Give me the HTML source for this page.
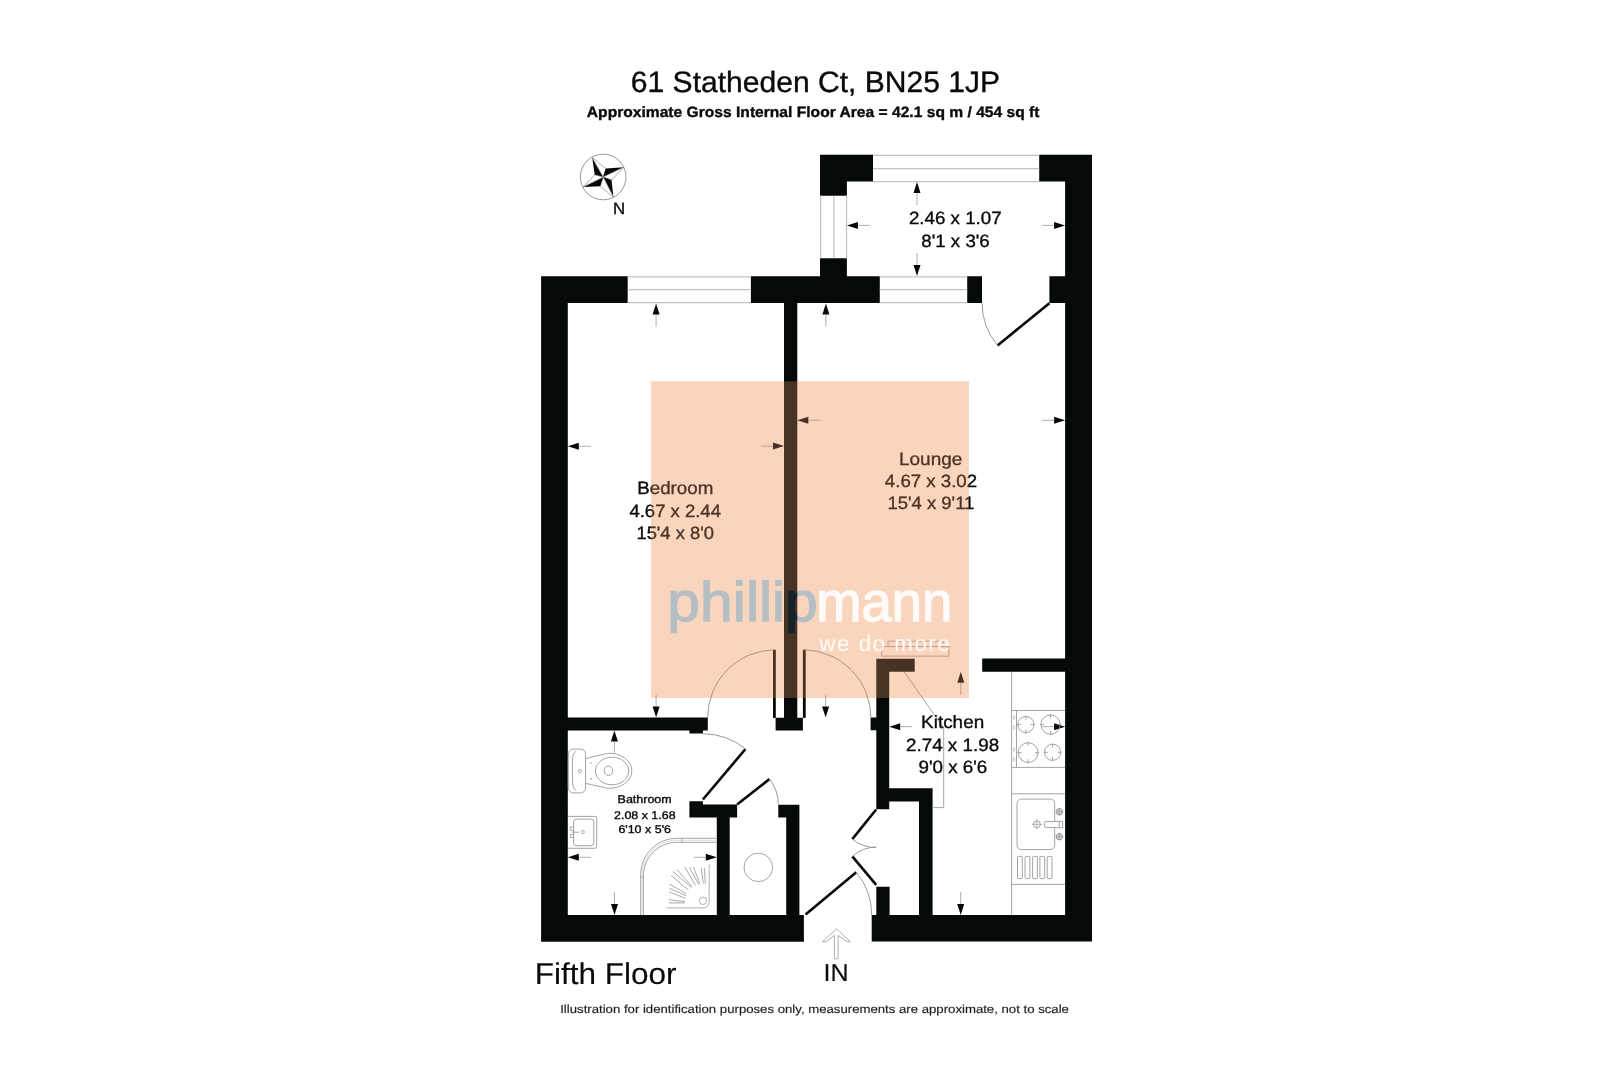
<!DOCTYPE html>
<html><head><meta charset="utf-8"><style>
html,body{margin:0;padding:0;background:#fff;}
svg{display:block;font-family:"Liberation Sans",sans-serif;}
text{text-rendering:geometricPrecision;}
</style></head><body>
<div style="will-change:transform"><svg width="1620" height="1080" viewBox="0 0 1620 1080">
<rect width="1620" height="1080" fill="#fff"/>
<defs>
<mask id="km" maskUnits="userSpaceOnUse" x="0" y="0" width="1620" height="1080">
<rect x="0" y="0" width="1620" height="1080" fill="#fff"/>
<text transform="translate(670.7,620.9) scale(1.053,1)" x="-3.2" y="0" font-size="55.9" fill="#000" stroke="#000" stroke-width="1.4" font-family="Liberation Sans, sans-serif">phillip</text>
</mask>
</defs>
<path fill="#060909" d="M541.10 276.20H567.80V941.80H541.10Z M541.10 276.20H627.70V303.00H541.10Z M750.90 276.20H879.80V303.00H750.90Z M820.00 258.30H846.90V303.00H820.00Z M820.00 154.70H846.90V195.70H820.00Z M820.00 154.70H873.00V181.60H820.00Z M1039.20 154.70H1092.00V181.60H1039.20Z M1065.10 154.70H1092.00V941.60H1065.10Z M967.20 276.30H982.00V303.10H967.20Z M1049.40 276.30H1065.50V303.10H1049.40Z M784.00 303.00H797.30V717.90H784.00Z M775.60 717.80H802.90V730.40H775.60Z M567.50 717.60H707.80V730.50H567.50Z M689.40 730.00H702.90V733.40H689.40Z M689.40 801.30H702.90V817.60H689.40Z M689.40 804.50H737.10V817.60H689.40Z M716.80 817.00H729.70V915.50H716.80Z M778.30 804.70H799.40V817.60H778.30Z M786.20 817.00H799.40V915.50H786.20Z M541.10 915.00H803.90V941.80H541.10Z M871.70 915.00H1092.00V941.60H871.70Z M876.30 886.70H889.60V915.50H876.30Z M876.30 658.70H914.70V671.70H876.30Z M876.30 658.70H889.20V809.30H876.30Z M889.00 788.30H932.50V801.60H889.00Z M919.00 788.30H932.60V915.50H919.00Z M870.60 717.50H876.60V730.30H870.60Z M982.20 658.50H1065.50V671.80H982.20Z"/>
<line x1="627.7" y1="276.8" x2="750.9" y2="276.8" stroke="#c4c4c4" stroke-width="1.3"/>
<line x1="627.7" y1="289.6" x2="750.9" y2="289.6" stroke="#c4c4c4" stroke-width="1.3"/>
<line x1="627.7" y1="302.6" x2="750.9" y2="302.6" stroke="#c4c4c4" stroke-width="1.3"/>
<line x1="879.8" y1="276.8" x2="967.2" y2="276.8" stroke="#c4c4c4" stroke-width="1.3"/>
<line x1="879.8" y1="289.6" x2="967.2" y2="289.6" stroke="#c4c4c4" stroke-width="1.3"/>
<line x1="879.8" y1="302.6" x2="967.2" y2="302.6" stroke="#c4c4c4" stroke-width="1.3"/>
<line x1="873.0" y1="155.3" x2="1039.2" y2="155.3" stroke="#c4c4c4" stroke-width="1.3"/>
<line x1="873.0" y1="168.6" x2="1039.2" y2="168.6" stroke="#c4c4c4" stroke-width="1.3"/>
<line x1="873.0" y1="181.6" x2="1039.2" y2="181.6" stroke="#c4c4c4" stroke-width="1.3"/>
<line x1="820.6" y1="195.7" x2="820.6" y2="258.3" stroke="#c4c4c4" stroke-width="1.3"/>
<line x1="833.9" y1="195.7" x2="833.9" y2="258.3" stroke="#c4c4c4" stroke-width="1.3"/>
<line x1="846.5" y1="195.7" x2="846.5" y2="258.3" stroke="#c4c4c4" stroke-width="1.3"/>
<line x1="1049.4" y1="303.2" x2="997.5" y2="345.4" stroke="#060909" stroke-width="2.6"/>
<path d="M982.0 303.2 A67.4 67.4 0 0 0 997.5 345.4" fill="none" stroke="#9a9a9a" stroke-width="1.0"/>
<rect x="773.00" y="649.70" width="2.80" height="68.20" fill="#060909"/>
<path d="M707.6 717.8 A68 68 0 0 1 774.4 649.8" fill="none" stroke="#9a9a9a" stroke-width="1.0"/>
<rect x="802.90" y="649.70" width="2.80" height="68.20" fill="#060909"/>
<path d="M804.3 649.8 A68 68 0 0 1 870.9 717.8" fill="none" stroke="#9a9a9a" stroke-width="1.0"/>
<line x1="702.9" y1="799.5" x2="745.5" y2="749.0" stroke="#060909" stroke-width="2.6"/>
<path d="M702.9 733.8 A67.4 67.4 0 0 1 745.5 749.0" fill="none" stroke="#9a9a9a" stroke-width="1.0"/>
<line x1="737.1" y1="804.5" x2="769.5" y2="779.1" stroke="#060909" stroke-width="2.6"/>
<path d="M769.5 779.1 A41.2 41.2 0 0 1 778.3 804.5" fill="none" stroke="#9a9a9a" stroke-width="1.0"/>
<line x1="876.2" y1="809.5" x2="852.3" y2="839.1" stroke="#060909" stroke-width="2.6"/>
<line x1="852.3" y1="856.4" x2="876.2" y2="884.9" stroke="#060909" stroke-width="2.6"/>
<path d="M852.3 839.1 A38 38 0 0 0 876.2 847.6" fill="none" stroke="#9a9a9a" stroke-width="1.0"/>
<path d="M876.2 846.9 A38 38 0 0 0 852.3 856.4" fill="none" stroke="#9a9a9a" stroke-width="1.0"/>
<line x1="805.6" y1="914.6" x2="856.25" y2="872.2" stroke="#060909" stroke-width="2.6"/>
<path d="M856.25 872.2 A66.7 66.7 0 0 1 871.7 915.0" fill="none" stroke="#9a9a9a" stroke-width="1.0"/>
<line x1="656.1" y1="314.5" x2="656.1" y2="326.5" stroke="#a6a6a6" stroke-width="0.9"/>
<polygon points="656.1,303.5 652.6,314.5 659.6,314.5" fill="#060909"/>
<line x1="578.8" y1="446.3" x2="590.8" y2="446.3" stroke="#a6a6a6" stroke-width="0.9"/>
<polygon points="567.8,446.3 578.8,442.8 578.8,449.8" fill="#060909"/>
<line x1="773.0" y1="446.1" x2="761.0" y2="446.1" stroke="#a6a6a6" stroke-width="0.9"/>
<polygon points="784.0,446.1 773.0,442.6 773.0,449.6" fill="#060909"/>
<line x1="656.1" y1="706.5" x2="656.1" y2="694.5" stroke="#a6a6a6" stroke-width="0.9"/>
<polygon points="656.1,717.5 652.6,706.5 659.6,706.5" fill="#060909"/>
<line x1="825.9" y1="314.5" x2="825.9" y2="326.5" stroke="#a6a6a6" stroke-width="0.9"/>
<polygon points="825.9,303.5 822.4,314.5 829.4,314.5" fill="#060909"/>
<line x1="808.3" y1="420.2" x2="820.3" y2="420.2" stroke="#a6a6a6" stroke-width="0.9"/>
<polygon points="797.3,420.2 808.3,416.7 808.3,423.7" fill="#060909"/>
<line x1="1054.1" y1="420.3" x2="1042.1" y2="420.3" stroke="#a6a6a6" stroke-width="0.9"/>
<polygon points="1065.1,420.3 1054.1,416.8 1054.1,423.8" fill="#060909"/>
<line x1="825.6" y1="706.5" x2="825.6" y2="694.5" stroke="#a6a6a6" stroke-width="0.9"/>
<polygon points="825.6,717.5 822.1,706.5 829.1,706.5" fill="#060909"/>
<line x1="917.0" y1="193.0" x2="917.0" y2="205.0" stroke="#a6a6a6" stroke-width="0.9"/>
<polygon points="917.0,182.0 913.5,193.0 920.5,193.0" fill="#060909"/>
<line x1="857.9" y1="225.4" x2="869.9" y2="225.4" stroke="#a6a6a6" stroke-width="0.9"/>
<polygon points="846.9,225.4 857.9,221.9 857.9,228.9" fill="#060909"/>
<line x1="1054.1" y1="225.4" x2="1042.1" y2="225.4" stroke="#a6a6a6" stroke-width="0.9"/>
<polygon points="1065.1,225.4 1054.1,221.9 1054.1,228.9" fill="#060909"/>
<line x1="917.0" y1="265.0" x2="917.0" y2="253.0" stroke="#a6a6a6" stroke-width="0.9"/>
<polygon points="917.0,276.0 913.5,265.0 920.5,265.0" fill="#060909"/>
<line x1="900.2" y1="726.7" x2="912.2" y2="726.7" stroke="#a6a6a6" stroke-width="0.9"/>
<polygon points="889.2,726.7 900.2,723.2 900.2,730.2" fill="#060909"/>
<line x1="1054.1" y1="726.7" x2="1042.1" y2="726.7" stroke="#a6a6a6" stroke-width="0.9"/>
<polygon points="1065.1,726.7 1054.1,723.2 1054.1,730.2" fill="#060909"/>
<line x1="960.8" y1="682.8" x2="960.8" y2="694.8" stroke="#a6a6a6" stroke-width="0.9"/>
<polygon points="960.8,671.8 957.3,682.8 964.3,682.8" fill="#060909"/>
<line x1="960.7" y1="904.0" x2="960.7" y2="892.0" stroke="#a6a6a6" stroke-width="0.9"/>
<polygon points="960.7,915.0 957.2,904.0 964.2,904.0" fill="#060909"/>
<line x1="614.4" y1="741.6" x2="614.4" y2="753.6" stroke="#a6a6a6" stroke-width="0.9"/>
<polygon points="614.4,730.6 610.9,741.6 617.9,741.6" fill="#060909"/>
<line x1="578.8" y1="857.3" x2="590.8" y2="857.3" stroke="#a6a6a6" stroke-width="0.9"/>
<polygon points="567.8,857.3 578.8,853.8 578.8,860.8" fill="#060909"/>
<line x1="705.8" y1="857.3" x2="693.8" y2="857.3" stroke="#a6a6a6" stroke-width="0.9"/>
<polygon points="716.8,857.3 705.8,853.8 705.8,860.8" fill="#060909"/>
<line x1="614.5" y1="904.0" x2="614.5" y2="892.0" stroke="#a6a6a6" stroke-width="0.9"/>
<polygon points="614.5,915.0 611.0,904.0 618.0,904.0" fill="#060909"/>
<line x1="1011.6" y1="671.8" x2="1011.6" y2="915.0" stroke="#9a9a9a" stroke-width="0.9"/>
<line x1="1011.6" y1="710.5" x2="1065.1" y2="710.5" stroke="#9a9a9a" stroke-width="0.9"/>
<line x1="1011.6" y1="767.4" x2="1065.1" y2="767.4" stroke="#9a9a9a" stroke-width="0.9"/>
<line x1="1016.5" y1="710.5" x2="1016.5" y2="767.4" stroke="#9a9a9a" stroke-width="0.9"/>
<circle cx="1025.9" cy="724.6" r="8.1" fill="none" stroke="#9a9a9a" stroke-width="0.9"/>
<path d="M1025.9 715.7 v4.0 M1025.9 733.5 v-4.0 M1017.0000000000001 724.6 h4.0 M1034.8 724.6 h-4.0" stroke="#9a9a9a" stroke-width="0.9"/>
<circle cx="1050.6" cy="724.6" r="9.7" fill="none" stroke="#9a9a9a" stroke-width="0.9"/>
<path d="M1050.6 714.1 v4.0 M1050.6 735.1 v-4.0 M1040.1 724.6 h4.0 M1061.1 724.6 h-4.0" stroke="#9a9a9a" stroke-width="0.9"/>
<circle cx="1028.2" cy="752.6" r="9.9" fill="none" stroke="#9a9a9a" stroke-width="0.9"/>
<path d="M1028.2 741.9000000000001 v4.0 M1028.2 763.3 v-4.0 M1017.5000000000001 752.6 h4.0 M1038.9 752.6 h-4.0" stroke="#9a9a9a" stroke-width="0.9"/>
<circle cx="1052.6" cy="752.3" r="8.1" fill="none" stroke="#9a9a9a" stroke-width="0.9"/>
<path d="M1052.6 743.4 v4.0 M1052.6 761.1999999999999 v-4.0 M1043.7 752.3 h4.0 M1061.4999999999998 752.3 h-4.0" stroke="#9a9a9a" stroke-width="0.9"/>
<rect x="1013.3" y="715.6" width="1.6" height="4" rx="0.8" fill="none" stroke="#b4b4b4" stroke-width="0.6"/>
<rect x="1013.3" y="725.3" width="1.6" height="4" rx="0.8" fill="none" stroke="#b4b4b4" stroke-width="0.6"/>
<rect x="1013.3" y="747.6" width="1.6" height="4" rx="0.8" fill="none" stroke="#b4b4b4" stroke-width="0.6"/>
<rect x="1013.3" y="757.2" width="1.6" height="4" rx="0.8" fill="none" stroke="#b4b4b4" stroke-width="0.6"/>
<line x1="1011.6" y1="793.8" x2="1065.1" y2="793.8" stroke="#9a9a9a" stroke-width="0.9"/>
<line x1="1011.6" y1="884.4" x2="1065.1" y2="884.4" stroke="#9a9a9a" stroke-width="0.9"/>
<rect x="1017" y="799.1" width="37.7" height="50.5" rx="4.5" fill="none" stroke="#9a9a9a" stroke-width="0.9"/>
<circle cx="1036.9" cy="824.3" r="3.4" fill="none" stroke="#9a9a9a" stroke-width="0.9"/>
<path d="M1031.6 824.3 H1042.2 M1036.9 819 V829.6" stroke="#9a9a9a" stroke-width="0.7"/>
<path d="M1046 821.6 L1062.6 821.3 V827.8 L1046 827.4 Q1044.4 827.4 1044.4 825.8 V823.2 Q1044.4 821.6 1046 821.6 Z M1059.2 821.3 V827.8" fill="#fff" stroke="#9a9a9a" stroke-width="0.9"/>
<circle cx="1059.4" cy="811.8" r="3.2" fill="#d4d4d4" stroke="#8a8a8a" stroke-width="0.8"/>
<path d="M1055.4 811.8 H1063.4 M1059.4 807.8 V815.8" stroke="#8a8a8a" stroke-width="0.6"/>
<circle cx="1059.4" cy="836.6" r="3.2" fill="#d4d4d4" stroke="#8a8a8a" stroke-width="0.8"/>
<path d="M1055.4 836.6 H1063.4 M1059.4 832.6 V840.6" stroke="#8a8a8a" stroke-width="0.6"/>
<rect x="1017.5" y="856.4" width="4.8" height="22.2" rx="0.8" fill="none" stroke="#9a9a9a" stroke-width="0.9"/>
<rect x="1025.1" y="856.4" width="4.8" height="22.2" rx="0.8" fill="none" stroke="#9a9a9a" stroke-width="0.9"/>
<rect x="1032.6" y="856.4" width="4.8" height="22.2" rx="0.8" fill="none" stroke="#9a9a9a" stroke-width="0.9"/>
<rect x="1039.9" y="856.4" width="4.8" height="22.2" rx="0.8" fill="none" stroke="#9a9a9a" stroke-width="0.9"/>
<rect x="1047.2" y="856.4" width="4.8" height="22.2" rx="0.8" fill="none" stroke="#9a9a9a" stroke-width="0.9"/>
<line x1="904.4" y1="672.0" x2="943.7" y2="728.3" stroke="#9a9a9a" stroke-width="0.9"/>
<line x1="943.7" y1="728.3" x2="943.7" y2="807.6" stroke="#9a9a9a" stroke-width="0.9"/>
<line x1="932.5" y1="807.6" x2="943.7" y2="807.6" stroke="#9a9a9a" stroke-width="0.9"/>
<rect x="881.7" y="646.7" width="67.2" height="9.4" fill="none" stroke="#9a9a9a" stroke-width="0.8"/>
<path d="M888 647 V641.2 H943.2 V647" fill="none" stroke="#9a9a9a" stroke-width="0.7"/>
<circle cx="758.3" cy="867.4" r="14.3" fill="none" stroke="#9a9a9a" stroke-width="0.9"/>
<rect x="568.3" y="749.1" width="17.3" height="43.8" rx="5" fill="none" stroke="#9a9a9a" stroke-width="0.9"/>
<path d="M576.2 751.1 C573 753 572.4 757 572.4 762 V780 C572.4 785 573 788.5 576.2 790.3" fill="none" stroke="#9a9a9a" stroke-width="0.9"/>
<path d="M585.6 758.5 L607.3 753.4 A22.2 17.5 0 1 1 607.3 788.2 L585.6 783.4" fill="none" stroke="#9a9a9a" stroke-width="0.9"/>
<ellipse cx="612.1" cy="771" rx="16.8" ry="13.75" fill="none" stroke="#9a9a9a" stroke-width="0.9"/>
<ellipse cx="608.4" cy="770.7" rx="4.2" ry="4.8" fill="none" stroke="#9a9a9a" stroke-width="0.9"/>
<circle cx="579.8" cy="771" r="1.6" fill="none" stroke="#9a9a9a" stroke-width="0.8"/>
<circle cx="591" cy="763" r="0.8" fill="#9a9a9a"/>
<circle cx="591" cy="778.9" r="0.8" fill="#9a9a9a"/>
<path d="M567.8 816.4 H594.7 Q596.7 816.4 596.7 818.4 V846.3 Q596.7 848.3 594.7 848.3 H567.8" fill="none" stroke="#9a9a9a" stroke-width="0.9"/>
<rect x="573.6" y="819.2" width="20.2" height="26.5" rx="2.5" fill="none" stroke="#9a9a9a" stroke-width="0.9"/>
<rect x="570.3" y="827" width="3.3" height="3.3" fill="#fff" stroke="#9a9a9a" stroke-width="0.8"/>
<rect x="570.3" y="834.4" width="3.3" height="3.3" fill="#fff" stroke="#9a9a9a" stroke-width="0.8"/>
<line x1="572" y1="832.2" x2="578.9" y2="832.2" stroke="#9a9a9a" stroke-width="0.9"/>
<circle cx="582.8" cy="832" r="1.6" fill="none" stroke="#9a9a9a" stroke-width="0.8"/>
<path d="M640.7 915 V874 A36 36 0 0 1 676.7 838.3 H716.8" fill="none" stroke="#9a9a9a" stroke-width="0.9"/>
<path d="M643.4 915 V874 A33.3 33.3 0 0 1 676.7 842.3 H716.8" fill="none" stroke="#9a9a9a" stroke-width="0.9"/>
<path d="M642.05 915 V874 A34.65 34.65 0 0 1 676.7 840.3 H716.8" fill="none" stroke="#c8c8c8" stroke-width="0.6"/>
<path d="M640.7 877 h2.7 M682 838.3 v4" stroke="#9a9a9a" stroke-width="0.8"/>
<path d="M709.2 864.2 V901.9 A6 6 0 0 1 703.2 907.9 H666.7" fill="none" stroke="#a8a8a8" stroke-width="0.9"/>
<circle cx="702.9" cy="900.8" r="3.7" fill="none" stroke="#9a9a9a" stroke-width="0.8"/>
<line x1="668.7" y1="899.8" x2="684.9" y2="901.6" stroke="#a0a0a0" stroke-width="0.9"/>
<line x1="668.7" y1="902.9" x2="684.9" y2="902.9" stroke="#a0a0a0" stroke-width="0.9"/>
<line x1="669.2" y1="884" x2="686.5" y2="893.7" stroke="#a0a0a0" stroke-width="0.9"/>
<line x1="669.2" y1="888.1" x2="686" y2="895.7" stroke="#a0a0a0" stroke-width="0.9"/>
<line x1="669.2" y1="891.9" x2="685.5" y2="898.3" stroke="#a0a0a0" stroke-width="0.9"/>
<line x1="670.9" y1="875.4" x2="688.5" y2="890.1" stroke="#a0a0a0" stroke-width="0.9"/>
<line x1="672.7" y1="871.3" x2="691.6" y2="887.6" stroke="#a0a0a0" stroke-width="0.9"/>
<line x1="676.8" y1="869.3" x2="692.1" y2="886.6" stroke="#a0a0a0" stroke-width="0.9"/>
<line x1="684.9" y1="867.2" x2="695.6" y2="885.5" stroke="#a0a0a0" stroke-width="0.9"/>
<line x1="689.5" y1="867.2" x2="698.7" y2="884.5" stroke="#a0a0a0" stroke-width="0.9"/>
<line x1="693.6" y1="867.2" x2="699.7" y2="883.5" stroke="#a0a0a0" stroke-width="0.9"/>
<line x1="701.2" y1="867.7" x2="703.3" y2="883.5" stroke="#a0a0a0" stroke-width="0.9"/>
<line x1="704.3" y1="867.7" x2="705.3" y2="883.5" stroke="#a0a0a0" stroke-width="0.9"/>
<circle cx="603.2" cy="177.0" r="22.8" fill="none" stroke="#8a8a8a" stroke-width="0.9"/>
<polygon points="592.2,157.5 594.7,174.9 603.2,177.0" fill="#060909"/>
<polygon points="592.2,157.5 603.2,177.0 605.8,168.6" fill="#fff" stroke="#777" stroke-width="0.6"/>
<polygon points="623.8,167.2 605.8,168.6 603.2,177.0" fill="#060909"/>
<polygon points="623.8,167.2 603.2,177.0 611.5,180.1" fill="#fff" stroke="#777" stroke-width="0.6"/>
<polygon points="613.4,197.1 611.5,180.1 603.2,177.0" fill="#060909"/>
<polygon points="613.4,197.1 603.2,177.0 600.2,186.3" fill="#fff" stroke="#777" stroke-width="0.6"/>
<polygon points="583.2,187.0 600.2,186.3 603.2,177.0" fill="#060909"/>
<polygon points="583.2,187.0 603.2,177.0 594.7,174.9" fill="#fff" stroke="#777" stroke-width="0.6"/>
<path d="M836.5 928.8 L850.4 941.7 L847.1 941.7 L838.1 935.4 V958.8 H834.4 V935.4 L826.2 941.7 L822.5 941.7 Z" fill="none" stroke="#a4a4a4" stroke-width="0.9" stroke-linejoin="round"/>
<text transform="translate(630.80,91.80) scale(1.0189,1)" x="0" y="0" font-size="29.5" font-weight="normal" fill="#0a0a0a" stroke="#0a0a0a" stroke-width="0.35">61 Statheden Ct, BN25 1JP</text>
<text transform="translate(586.83,116.70) scale(1.0482,1)" x="0" y="0" font-size="14.9" font-weight="bold" fill="#0a0a0a" stroke="#0a0a0a" stroke-width="0.35">Approximate Gross Internal Floor Area = 42.1 sq m / 454 sq ft</text>
<text transform="translate(908.91,224.40) scale(1.0535,1)" x="0" y="0" font-size="17.8" font-weight="normal" fill="#0a0a0a" stroke="#0a0a0a" stroke-width="0.35">2.46 x 1.07</text>
<text transform="translate(921.35,246.85) scale(1.0498,1)" x="0" y="0" font-size="17.8" font-weight="normal" fill="#0a0a0a" stroke="#0a0a0a" stroke-width="0.35">8&#39;1 x 3&#39;6</text>
<text transform="translate(898.98,464.50) scale(1.0676,1)" x="0" y="0" font-size="17.8" font-weight="normal" fill="#0a0a0a" stroke="#0a0a0a" stroke-width="0.35">Lounge</text>
<text transform="translate(884.83,487.35) scale(1.0488,1)" x="0" y="0" font-size="17.8" font-weight="normal" fill="#0a0a0a" stroke="#0a0a0a" stroke-width="0.35">4.67 x 3.02</text>
<text transform="translate(887.42,509.40) scale(1.0400,1)" x="0" y="0" font-size="17.8" font-weight="normal" fill="#0a0a0a" stroke="#0a0a0a" stroke-width="0.35">15&#39;4 x 9&#39;11</text>
<text transform="translate(637.20,493.70) scale(1.0546,1)" x="0" y="0" font-size="17.8" font-weight="normal" fill="#0a0a0a" stroke="#0a0a0a" stroke-width="0.35">Bedroom</text>
<text transform="translate(629.43,516.50) scale(1.0399,1)" x="0" y="0" font-size="17.8" font-weight="normal" fill="#0a0a0a" stroke="#0a0a0a" stroke-width="0.35">4.67 x 2.44</text>
<text transform="translate(636.43,539.00) scale(1.0332,1)" x="0" y="0" font-size="17.8" font-weight="normal" fill="#0a0a0a" stroke="#0a0a0a" stroke-width="0.35">15&#39;4 x 8&#39;0</text>
<text transform="translate(921.09,727.90) scale(1.0637,1)" x="0" y="0" font-size="17.8" font-weight="normal" fill="#0a0a0a" stroke="#0a0a0a" stroke-width="0.35">Kitchen</text>
<text transform="translate(905.96,750.80) scale(1.0587,1)" x="0" y="0" font-size="17.8" font-weight="normal" fill="#0a0a0a" stroke="#0a0a0a" stroke-width="0.35">2.74 x 1.98</text>
<text transform="translate(918.46,773.10) scale(1.0559,1)" x="0" y="0" font-size="17.8" font-weight="normal" fill="#0a0a0a" stroke="#0a0a0a" stroke-width="0.35">9&#39;0 x 6&#39;6</text>
<text transform="translate(617.60,803.30) scale(1.1145,1)" x="0" y="0" font-size="11.2" font-weight="normal" fill="#0a0a0a" stroke="#0a0a0a" stroke-width="0.35">Bathroom</text>
<text transform="translate(614.08,818.60) scale(1.1101,1)" x="0" y="0" font-size="11.2" font-weight="normal" fill="#0a0a0a" stroke="#0a0a0a" stroke-width="0.35">2.08 x 1.68</text>
<text transform="translate(618.38,833.10) scale(1.1139,1)" x="0" y="0" font-size="11.2" font-weight="normal" fill="#0a0a0a" stroke="#0a0a0a" stroke-width="0.35">6&#39;10 x 5&#39;6</text>
<text transform="translate(613.06,213.75) scale(1.0173,1)" x="0" y="0" font-size="16.5" font-weight="normal" fill="#0a0a0a" stroke="#0a0a0a" stroke-width="0.35">N</text>
<text transform="translate(534.78,984.30) scale(1.0465,1)" x="0" y="0" font-size="30.1" font-weight="normal" fill="#0a0a0a" stroke="#0a0a0a" stroke-width="0.12">Fifth Floor</text>
<text transform="translate(823.44,981.25) scale(1.0229,1)" x="0" y="0" font-size="24.5" font-weight="normal" fill="#0a0a0a" stroke="#0a0a0a" stroke-width="0.12">IN</text>
<text transform="translate(560.21,1012.80) scale(1.1363,1)" x="0" y="0" font-size="11.6" font-weight="normal" fill="#1c1c1c" stroke="#1c1c1c" stroke-width="0.15">Illustration for identification purposes only, measurements are approximate, not to scale</text>
<rect x="651" y="381.3" width="318" height="316.7" fill="rgb(70,52,40)" mask="url(#km)" style="mix-blend-mode:screen"/><rect x="651" y="381.3" width="318" height="316.7" fill="rgb(249,213,190)" mask="url(#km)" style="mix-blend-mode:multiply"/>
<g opacity="0.37"><text transform="translate(670.7,620.9) scale(1.053,1)" x="-3.2" y="0" font-size="55.9" fill="#36515f" stroke="#36515f" stroke-width="1.4">phillip</text></g>
<g opacity="0.92"><text transform="translate(819.3,620.9) scale(0.973,1)" x="-3.2" y="0" font-size="55.9" fill="#fff" stroke="#fff" stroke-width="1.4">mann</text></g>
<text x="819.3" y="650.6" font-size="22.3" letter-spacing="1.55" fill="#fff" fill-opacity="0.9">we do more</text>
</svg></div>
</body></html>
